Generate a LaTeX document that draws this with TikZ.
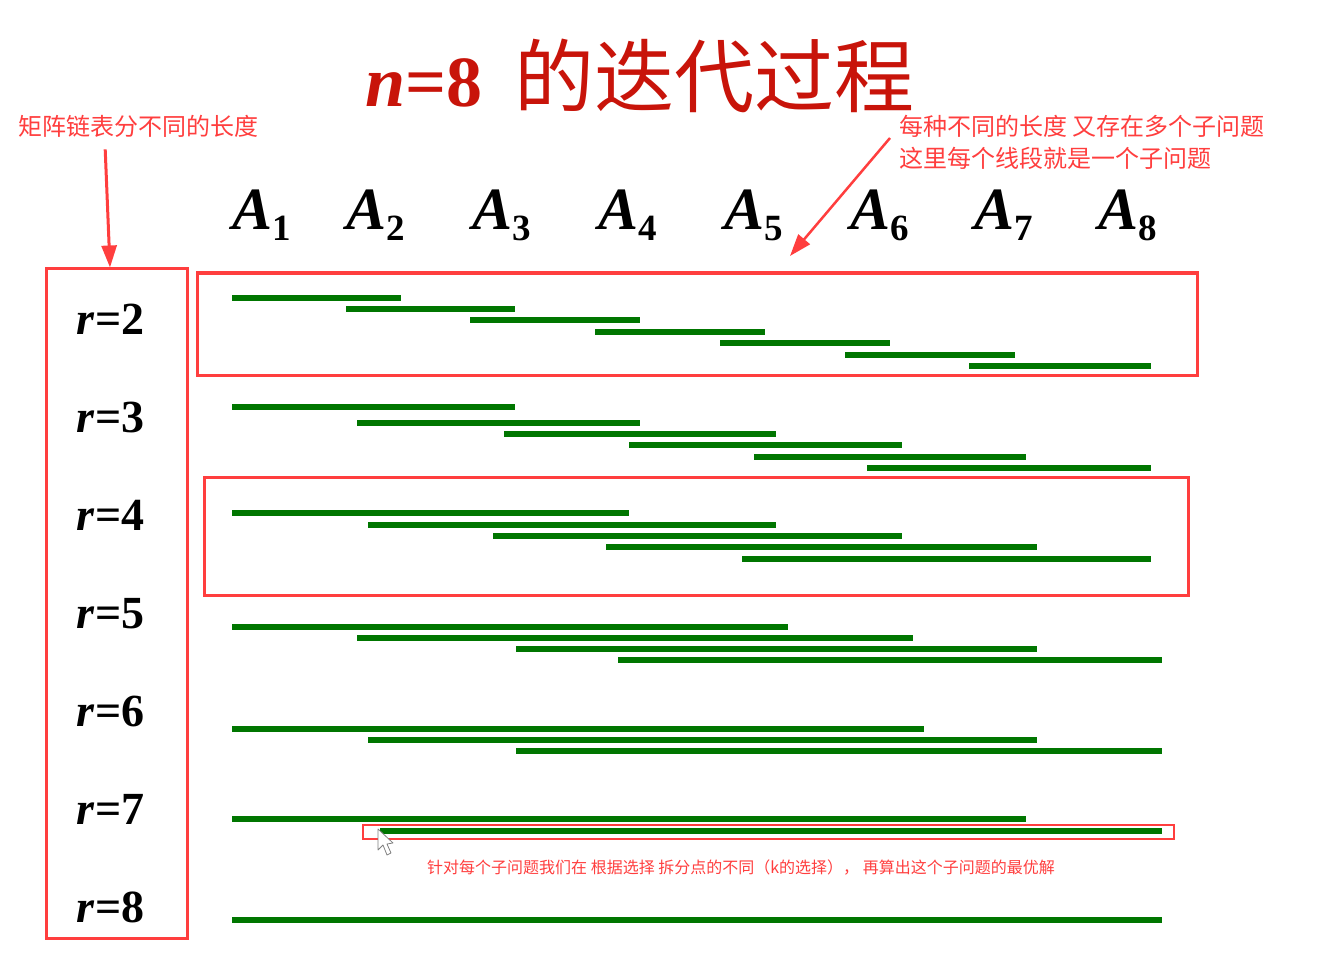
\documentclass[tikz,border=0pt]{standalone}
\usepackage{fontspec}
\setmainfont{Liberation Serif}
\newfontfamily\cjk{Noto Sans CJK SC}
\usetikzlibrary{arrows.meta}
\definecolor{titlered}{RGB}{200,20,10}
\definecolor{notered}{RGB}{255,62,62}
\definecolor{seggreen}{RGB}{0,118,0}

\begin{document}
\begin{tikzpicture}[x=1pt,y=-1pt,
  seg/.style={seggreen,line width=6.5pt},
  redbox/.style={draw=notered,line width=3pt},
  redarrow/.style={notered,line width=3pt,-{Triangle[width=15pt,length=22pt]}},
  note/.style={text=notered,inner sep=0pt,font=\cjk\fontsize{24}{32}\selectfont},
  alabel/.style={inner sep=0pt,anchor=base west},
  rlabel/.style={inner sep=0pt,anchor=base,font=\fontsize{46}{46}\selectfont\bfseries}]

  \useasboundingbox (0,0) rectangle (1339,960);

  % title
  \node[inner sep=0pt,anchor=base west,text=titlered] (title) at (365,107)
    {\fontsize{72}{72}\selectfont\textbf{\textit{n}=8}\hspace{32pt}{\cjk\fontsize{80}{80}\selectfont 的迭代过程}};

  % notes
  \node[note,anchor=west] (lenlbl) at (18,126) {矩阵链表分不同的长度};
  \node[note,anchor=west,align=left] (subnote) at (899,142)
    {每种不同的长度 又存在多个子问题\\这里每个线段就是一个子问题};
  \node[text=notered,inner sep=0pt,anchor=west,font=\cjk\fontsize{16}{16}\selectfont] (kchoice) at (427,868)
    {针对每个子问题我们在 根据选择 拆分点的不同（k的选择）， 再算出这个子问题的最优解};

  % matrices
  \foreach \i/\x in {1/232,2/346,3/472,4/598,5/724,6/850,7/974,8/1098}
    \node[alabel] (a\i) at (\x,230)
      {\fontsize{60}{60}\selectfont\textbf{\textit{A}}\raisebox{-10pt}{\fontsize{37}{37}\selectfont\textbf{\i}}};

  % chain lengths
  \node[redbox,minimum width=141pt,minimum height=669pt,anchor=north west,inner sep=0pt] (rbox) at (44.5,267.5) {};
  \foreach \r in {2,...,8}
    \node[rlabel] (r\r) at (110.5,{334+98*(\r-2)}) {\textit{r}=\r};

  % boxes round sub problems
  \draw[redbox] (197,273) rectangle (1197,375);
  \draw[redbox] (204,477) rectangle (1188,595);
  \draw[redbox,line width=2.5pt] (363,825) rectangle (1174,839);

  % segments
  \foreach \a/\b/\y in {232/401/298,346/515/309,470/640/320,595/765/332,720/890/343,845/1015/355,969/1151/366,
                        232/515/407,357/640/423,504/776/434,629/902/445,754/1026/457,867/1151/468,
                        232/629/513,368/776/525,493/902/536,606/1037/547,742/1151/559,
                        232/788/627,357/913/638,516/1037/649,618/1162/660,
                        232/924/729,368/1037/740,516/1162/751,
                        232/1026/819,380/1162/831,
                        232/1162/920}
    \draw[seg] (\a,\y) -- (\b,\y);

  % cursor
  \draw[gray,fill=white,line width=0.8pt,line join=round] (378,829) -- (378,850) -- (383,845) -- (387,855) -- (391,853) -- (387,844) -- (393,843) -- cycle;

  % arrows
  \draw[redarrow] ([xshift=-33pt,yshift=-12pt]lenlbl.south) -- ([xshift=-6.5pt]rbox.north);
  \coordinate (hint) at (790,256);
  \draw[redarrow,line width=2.5pt] ([xshift=-9pt,yshift=4pt]subnote.west) -- (hint);
\end{tikzpicture}
\end{document}
